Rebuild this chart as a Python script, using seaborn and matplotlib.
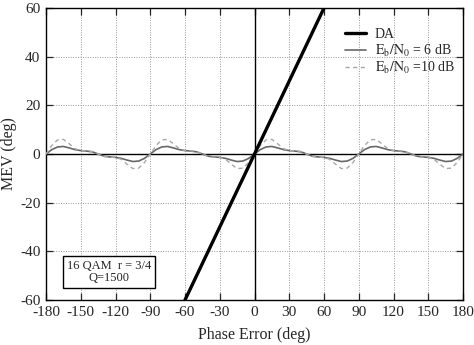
import numpy as np
import pandas as pd
import matplotlib
matplotlib.use("Agg")
import matplotlib.pyplot as plt
import seaborn as sns

# Phase error grid (deg)
phase = list(range(-180, 181, 5))

# Mean estimated value, Eb/N0 = 6 dB
mev_6db = [
    0, 1.8, 2.9, 3.1, 2.5, 1.8, 1.4, 1.2, 0.9, 0, -0.9, -1.2, -1.4, -1.8, -2.5, -3.1, -2.9, -1.8,
    0, 1.8, 2.9, 3.1, 2.5, 1.8, 1.4, 1.2, 0.9, 0, -0.9, -1.2, -1.4, -1.8, -2.5, -3.1, -2.9, -1.8,
    0, 1.8, 2.9, 3.1, 2.5, 1.8, 1.4, 1.2, 0.9, 0, -0.9, -1.2, -1.4, -1.8, -2.5, -3.1, -2.9, -1.8,
    0, 1.8, 2.9, 3.1, 2.5, 1.8, 1.4, 1.2, 0.9, 0, -0.9, -1.2, -1.4, -1.8, -2.5, -3.1, -2.9, -1.8,
    0,
]

# Mean estimated value, Eb/N0 = 10 dB
mev_10db = [
    0, 3.5, 5.8, 6.0, 4.2, 2.2, 1.4, 1.3, 1.0, 0, -1.0, -1.3, -1.4, -2.2, -4.2, -6.0, -5.8, -3.5,
    0, 3.5, 5.8, 6.0, 4.2, 2.2, 1.4, 1.3, 1.0, 0, -1.0, -1.3, -1.4, -2.2, -4.2, -6.0, -5.8, -3.5,
    0, 3.5, 5.8, 6.0, 4.2, 2.2, 1.4, 1.3, 1.0, 0, -1.0, -1.3, -1.4, -2.2, -4.2, -6.0, -5.8, -3.5,
    0, 3.5, 5.8, 6.0, 4.2, 2.2, 1.4, 1.3, 1.0, 0, -1.0, -1.3, -1.4, -2.2, -4.2, -6.0, -5.8, -3.5,
    0,
]

# Data-aided estimator (ideal linear response)
da_phase = [-60, 60]
da_mev = [-60, 60]

x_ticks = list(range(-180, 181, 30))
y_ticks = list(range(-60, 61, 20))

sns.set_style("ticks")
plt.rcParams["font.family"] = ["Liberation Serif", "DejaVu Serif"]
plt.rcParams["mathtext.fontset"] = "stix"

fig = plt.figure(figsize=(4.74, 3.45), dpi=100)
ax = fig.add_axes([46 / 474, 1 - 300 / 345, (463 - 46) / 474, (300 - 8) / 345])

ax.grid(True, color="#999999", linestyle=(0, (1, 1.5)), linewidth=0.7)
ax.axhline(0, color="black", lw=1.0, zorder=2)
ax.axvline(0, color="black", lw=1.0, zorder=2)

df_da = pd.DataFrame({"phase": da_phase, "mev": da_mev})
df6 = pd.DataFrame({"phase": phase, "mev": mev_6db})
df10 = pd.DataFrame({"phase": phase, "mev": mev_10db})

sns.lineplot(data=df_da, x="phase", y="mev", ax=ax, color="black", lw=2.4,
             label="DA", zorder=4)
sns.lineplot(data=df6, x="phase", y="mev", ax=ax, color="#686868", lw=1.2,
             label=r"$\mathrm{E_b/N_0}$ = 6 dB", zorder=3)
sns.lineplot(data=df10, x="phase", y="mev", ax=ax, color="#a8a8a8", lw=1.0,
             linestyle=(0, (3, 2.5)), label=r"$\mathrm{E_b/N_0}$ =10 dB", zorder=3)

ax.set_xlim(-180, 180)
ax.set_ylim(-60, 60)
ax.set_xticks(x_ticks)
ax.set_yticks(y_ticks)
ax.set_xticklabels([str(t) for t in x_ticks], fontsize=11)
ax.set_yticklabels([str(t) for t in y_ticks], fontsize=11)
ax.tick_params(direction="in", length=5, width=0.9, top=True, right=True, pad=4)
for s in ax.spines.values():
    s.set_linewidth(1.0)
    s.set_color("black")

ax.set_xlabel("Phase Error (deg)", fontsize=11.5, labelpad=6)
ax.set_ylabel("MEV (deg)", fontsize=11.5, labelpad=2)

leg = ax.legend(loc="upper right", bbox_to_anchor=(1.0, 0.96), frameon=False,
                fontsize=10, handlelength=1.5, handletextpad=0.6,
                labelspacing=0.1, borderaxespad=0.2)

ax.text(0.151, 0.096, "16 QAM  r = 3/4\nQ=1500", transform=ax.transAxes,
        ha="center", va="center", fontsize=9, linespacing=1.0,
        bbox=dict(boxstyle="square,pad=0.3", fc="white", ec="black", lw=1.0),
        zorder=5)

fig.savefig("out.png", dpi=100)
